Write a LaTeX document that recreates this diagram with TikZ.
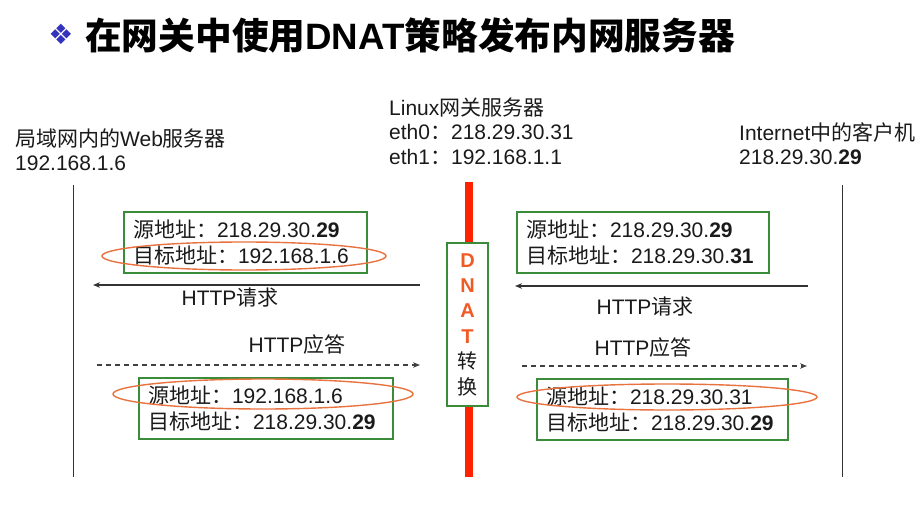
\documentclass[tikz,border=0pt]{standalone}
\usepackage{fontspec}
\setmainfont{Liberation Sans}
\newfontfamily\zh{Noto Sans CJK SC}
\newfontfamily\symf{DejaVu Sans}
\usetikzlibrary{arrows.meta}
\definecolor{boxgreen}{HTML}{3A8C3A}
\definecolor{ringorange}{HTML}{E8733F}
\definecolor{dnatorange}{HTML}{F05A24}
\definecolor{barred}{HTML}{FF2200}
\definecolor{txt}{HTML}{1A1A1A}
\definecolor{bulletblue}{HTML}{3333BB}
\tikzset{
  pkt/.style={draw=boxgreen, line width=1.2pt, fill=white, align=left, inner xsep=9pt, inner ysep=0pt,
    minimum height=61pt, font=\fontsize{21}{26}\selectfont, text=txt},
  lbl/.style={font=\fontsize{21}{24.5}\selectfont, text=txt, inner sep=0pt, align=left},
  arr/.style={draw=black!80, line width=1.3pt, -{Stealth[length=7pt,width=5.5pt]}},
  darr/.style={arr, draw=black!75, line width=1.6pt, dash pattern=on 5pt off 4pt},
  wire/.style={draw=black!80, line width=1pt}
}
\begin{document}
\begin{tikzpicture}[x=1pt,y=-1pt]
\useasboundingbox (0,0) rectangle (921,511);

% title
\node[text=bulletblue, font=\symf\fontsize{28}{28}\selectfont, inner sep=0pt] (bullet) at (61,34) {❖};
\node[anchor=west, inner sep=0pt, text=black, font=\fontsize{36.7}{40}\selectfont\bfseries] (title) at (85,35)
  {{\zh\bfseries 在网关中使用}DNAT{\zh\bfseries 策略发布内网服务器}};

% headers
\node[lbl, anchor=west] (lanhead) at (15,149.5) {{\zh 局域网内的}Web{\zh 服务器}\\192.168.1.6};
\node[lbl, anchor=west] (gwhead) at (389,131) {Linux{\zh 网关服务器}\\eth0{\zh ：}218.29.30.31\\eth1{\zh ：}192.168.1.1};
\node[lbl, anchor=west] (nethead) at (739,143.5) {Internet{\zh 中的客户机}\\218.29.30.\textbf{29}};

% vertical lines
\coordinate (lanTop) at (73,185);
\coordinate (lanBot) at (73,477);
\coordinate (netTop) at (842,185);
\coordinate (netBot) at (842,477);
\coordinate (gwTop) at (469,182);
\coordinate (gwBot) at (469,477);
\draw[wire] (lanTop) -- (lanBot);
\draw[wire] (netTop) -- (netBot);
\draw[barred, line width=8pt] (gwTop) -- (gwBot);

% DNAT box
\node[draw=boxgreen, fill=white, line width=1.2pt, minimum width=41pt, minimum height=163pt, inner sep=0pt,
      align=center, font=\fontsize{20}{25.4}\selectfont, text=txt] (dnat) at (467.5,324.5)
  {\textcolor{dnatorange}{\textbf{D}}\\\textcolor{dnatorange}{\textbf{N}}\\\textcolor{dnatorange}{\textbf{A}}\\\textcolor{dnatorange}{\textbf{T}}\\{\zh 转}\\{\zh 换}};

% packet boxes
\node[pkt, text width=225pt] (reqL) at (245.5,242.5)
  {{\zh 源地址：}218.29.30.\textbf{29}\\{\zh 目标地址：}192.168.1.6};
\node[pkt, text width=234pt] (reqR) at (643,242.5)
  {{\zh 源地址：}218.29.30.\textbf{29}\\{\zh 目标地址：}218.29.30.\textbf{31}};
\node[pkt, text width=236pt] (repL) at (266,408.5)
  {{\zh 源地址：}192.168.1.6\\{\zh 目标地址：}218.29.30.\textbf{29}};
\node[pkt, text width=233pt] (repR) at (662.5,409.5)
  {{\zh 源地址：}218.29.30.31\\{\zh 目标地址：}218.29.30.\textbf{29}};

% rings
\draw[draw=ringorange, line width=1.4pt] (244,256) ellipse [x radius=142pt, y radius=14pt];
\draw[draw=ringorange, line width=1.4pt] (263,394) ellipse [x radius=150pt, y radius=15pt];
\draw[draw=ringorange, line width=1.4pt] (667,397) ellipse [x radius=150pt, y radius=13pt];

% arrows
\coordinate (rqLs) at (420,285);
\coordinate (rqLe) at (93,285);
\coordinate (rqRs) at (808,286);
\coordinate (rqRe) at (515,286);
\coordinate (rpLs) at (97,365);
\coordinate (rpLe) at (420,365);
\coordinate (rpRs) at (522,366);
\coordinate (rpRe) at (807,366);
\draw[arr] (rqLs) -- (rqLe);
\draw[arr] (rqRs) -- (rqRe);
\draw[darr] (rpLs) -- (rpLe);
\draw[darr] (rpRs) -- (rpRe);

% arrow labels
\node[lbl] (rqLlbl) at (230,298) {HTTP{\zh 请求}};
\node[lbl] (rqRlbl) at (645,307) {HTTP{\zh 请求}};
\node[lbl] (rpLlbl) at (297,345) {HTTP{\zh 应答}};
\node[lbl] (rpRlbl) at (643,348) {HTTP{\zh 应答}};
\end{tikzpicture}
\end{document}
